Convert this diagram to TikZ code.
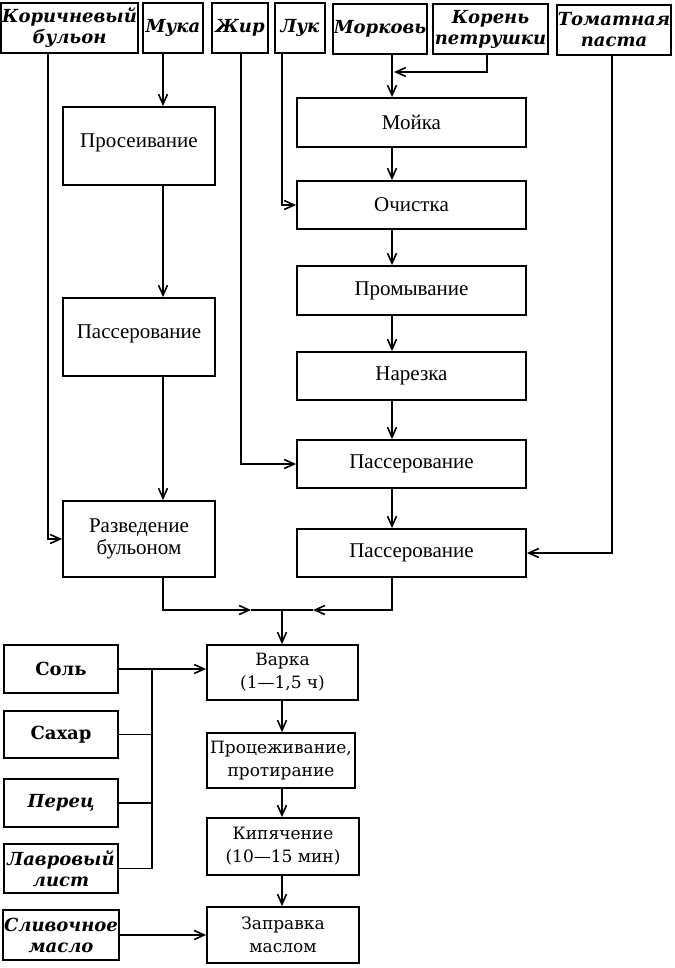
\documentclass[tikz,border=0pt]{standalone}
\usepackage{fontspec}
\setmainfont{Liberation Serif}
\newfontfamily\inpfont{DejaVu Serif}
\usetikzlibrary{arrows.meta}
\begin{document}
\begin{tikzpicture}[x=1pt,y=-1pt,
  wh/.style 2 args={minimum width=#1pt, minimum height=#2pt},
  box/.style={draw, line width=1.8pt, inner sep=1pt, align=center},
  inp/.style={box, font=\inpfont\bfseries\itshape\fontsize{18}{21}\selectfont},
  inpu/.style={box, font=\inpfont\bfseries\fontsize{18}{21}\selectfont},
  proc/.style={box, font=\fontsize{21}{22}\selectfont},
  low/.style={box, font=\inpfont\fontsize{17}{23}\selectfont},
  ln/.style={line width=1.6pt},
  arr/.style={ln, -{Straight Barb[length=10pt,width=9pt]}}
]
\useasboundingbox (0,0) rectangle (674,968);
% top inputs
\node[inp, wh={131}{50}] (kb) at (69.5,28) {Коричневый\\бульон};
\node[inp, wh={60}{50}] (muka) at (173,28) {Мука};
\node[inp, wh={56}{50}] (zhir) at (240,28) {Жир};
\node[inp, wh={50}{50}] (luk) at (300,28) {Лук};
\node[inp, wh={86}{50}] (mork) at (380,29) {Морковь};
\node[inp, wh={115}{50}] (koren) at (490.5,29) {Корень\\петрушки};
\node[inp, wh={112}{50}] (tomat) at (614,30) {Томатная\\паста};
% left column
\node[proc, wh={152}{78}] (pros) at (139,146) {Просеивание\\[-12pt]\mbox{}};
\node[proc, wh={152}{78}] (passL) at (139,337) {Пассерование\\[-12pt]\mbox{}};
\node[proc, wh={152}{76}] (razv) at (139,539) {Разведение\\бульоном};
% right column
\node[proc, wh={229}{49}] (moika) at (411.5,122.5) {Мойка};
\node[proc, wh={229}{48}] (ochi) at (411.5,205) {Очистка};
\node[proc, wh={229}{49}] (promyv) at (411.5,290.5) {Промывание};
\node[proc, wh={229}{48}] (narez) at (411.5,376) {Нарезка};
\node[proc, wh={229}{48}] (passA) at (411.5,464) {Пассерование};
\node[proc, wh={229}{48}] (passB) at (411.5,553) {Пассерование};
% lower column
\node[low, wh={151}{55}] (varka) at (282.5,672.5) {Варка\\(1—1,5 ч)};
\node[low, wh={148}{55}] (proc) at (281,760.5) {Процеживание,\\протирание};
\node[low, wh={152}{57}] (kip) at (283,846.5) {Кипячение\\(10—15 мин)};
\node[low, wh={152}{56}] (zapr) at (283,935) {Заправка\\маслом};
% lower inputs
\node[inpu, wh={114}{48}] (sol) at (61,669) {Соль};
\node[inpu, wh={114}{47}] (sahar) at (61,734.5) {Сахар};
\node[inp, wh={114}{48}] (perec) at (61,803) {Перец};
\node[inp, wh={114}{49}] (lavr) at (61,868.5) {Лавровый\\лист};
\node[inp, wh={114}{50}] (sliv) at (61,935) {Сливочное\\масло};
% column coordinates
\coordinate (xB) at (48,0);
\coordinate (xM) at (163,0);
\coordinate (xZ) at (241,0);
\coordinate (xL) at (282,0);
\coordinate (xC) at (392,0);
\coordinate (xK) at (487,0);
\coordinate (xT) at (612,0);
\coordinate (xS) at (152,0);
\coordinate (kj) at (394,72);
\coordinate (j) at (282,610);
\coordinate (aL) at (251,610);
\coordinate (aR) at (313,610);
% connectors
\draw[arr] (kb.south -| xB) |- (razv.west);
\draw[arr] (muka.south -| xM) -- (pros.north -| xM);
\draw[arr] (pros.south -| xM) -- (passL.north -| xM);
\draw[arr] (passL.south -| xM) -- (razv.north -| xM);
\draw[arr] (zhir.south -| xZ) |- (passA.west);
\draw[arr] (luk.south -| xL) |- (ochi.west);
\draw[arr] (mork.south -| xC) -- (moika.north -| xC);
\draw[arr] (koren.south -| xK) |- (kj);
\draw[arr] (moika.south -| xC) -- (ochi.north -| xC);
\draw[arr] (ochi.south -| xC) -- (promyv.north -| xC);
\draw[arr] (promyv.south -| xC) -- (narez.north -| xC);
\draw[arr] (narez.south -| xC) -- (passA.north -| xC);
\draw[arr] (passA.south -| xC) -- (passB.north -| xC);
\draw[arr] (tomat.south -| xT) |- (passB.east);
\draw[arr] (razv.south -| xM) |- (aL);
\draw[ln] (aL) -- (j);
\draw[arr] (passB.south -| xC) |- (aR);
\draw[ln] (aR) -- (j);
\draw[arr] (j) -- (varka.north -| j);
\draw[arr] (varka.south -| j) -- (proc.north -| j);
\draw[arr] (proc.south -| j) -- (kip.north -| j);
\draw[arr] (kip.south -| j) -- (zapr.north -| j);
\draw[arr] (sol.east) -- (sol.east -| varka.west);
\draw[ln] (sahar.east) -- (sahar.east -| xS);
\draw[ln] (perec.east) -- (perec.east -| xS);
\draw[ln] (lavr.east) -| (sol.east -| xS);
\draw[arr] (sliv.east) -- (sliv.east -| zapr.west);
\end{tikzpicture}
\end{document}
